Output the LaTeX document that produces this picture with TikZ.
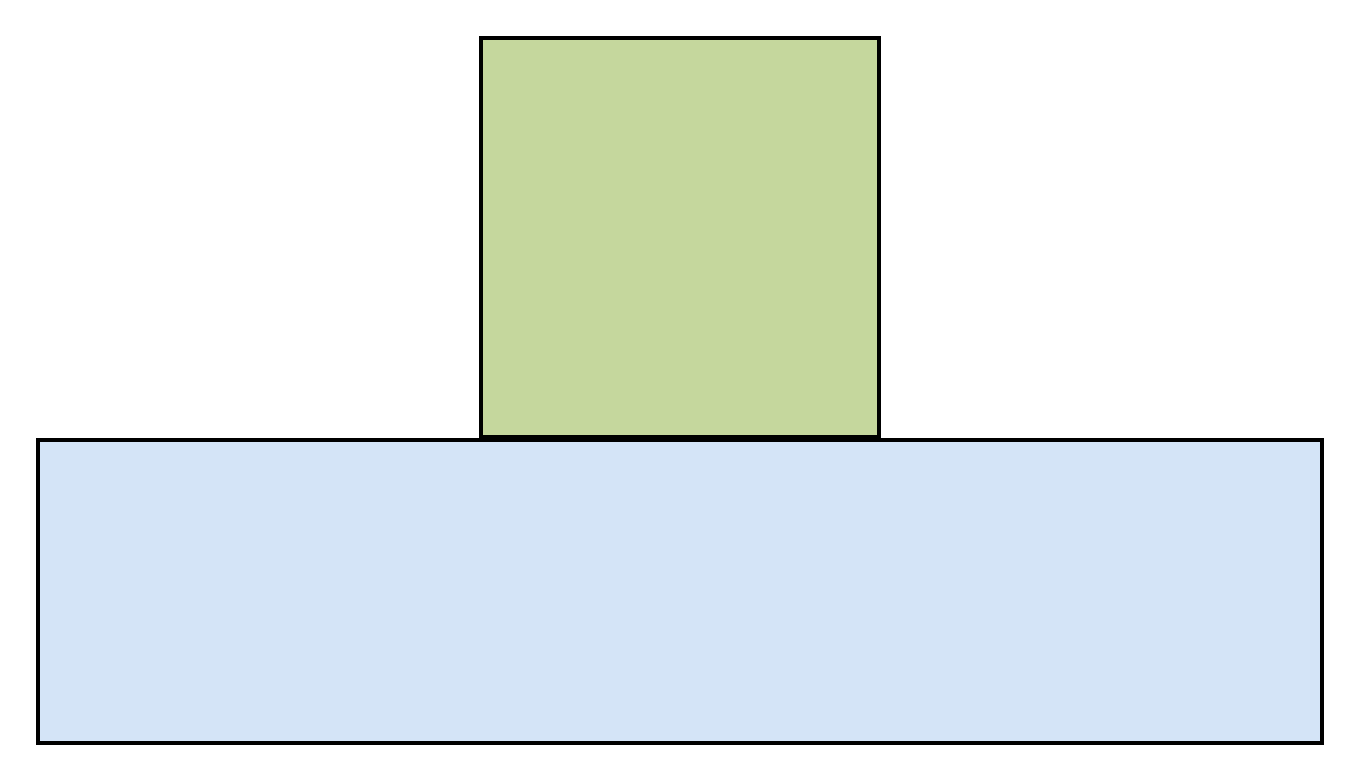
\documentclass[tikz,border=0pt]{standalone}
\usepackage{tikz}
\definecolor{topgreen}{HTML}{C5D79D}
\definecolor{baseblue}{HTML}{D4E4F7}
\tikzset{block/.style={draw=black, line width=1.4pt, line join=miter}}

\begin{document}
\begin{tikzpicture}
		\useasboundingbox (0,0) rectangle (13.64,7.82);
		\draw[block, fill=baseblue] (0.38,0.39) rectangle (13.22,3.42);
		\draw[block, fill=topgreen] (4.81,3.45) rectangle (8.79,7.44);
		\end{tikzpicture}
\end{document}
